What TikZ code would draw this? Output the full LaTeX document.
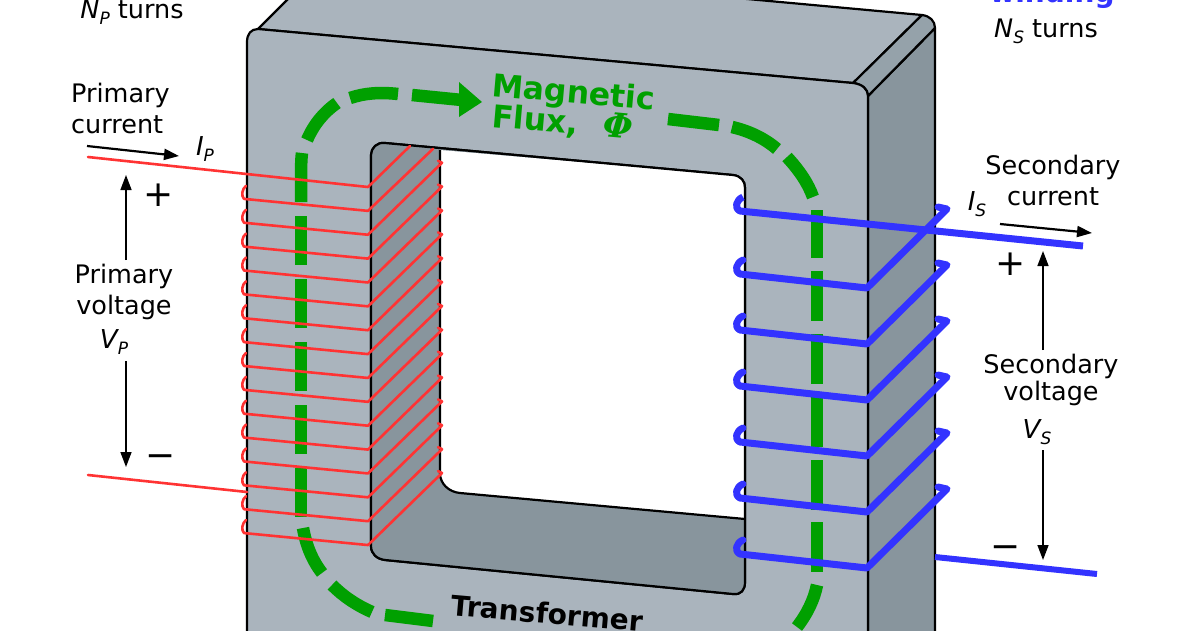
\documentclass[tikz,border=0pt]{standalone}
\usepackage{fontspec}
\setmainfont{DejaVu Sans}
\newfontfamily\serifphi{DejaVu Serif}
\usetikzlibrary{arrows.meta}
\definecolor{coreface}{HTML}{AAB4BD}
\definecolor{coredark}{HTML}{88959D}
\definecolor{coremid}{HTML}{95A2AA}
\definecolor{fluxgreen}{HTML}{00A000}
\definecolor{wirered}{HTML}{FF3333}
\definecolor{wireblue}{HTML}{3333FF}
\newcommand{\subsc}[1]{\raisebox{-6pt}{\fontsize{17}{17}\selectfont\itshape #1}}
\tikzset{
  outline/.style={draw=black,line width=2.2pt,line join=round},
  fluxdash/.style={draw=fluxgreen,line width=12.5pt},
  redwire/.style={draw=wirered,line width=2.6pt,line join=round,line cap=round},
  bluewire/.style={draw=wireblue,line width=7pt,line join=round,line cap=round},
  voltarrow/.style={draw=black,line width=1.5pt,-{Triangle[length=15pt,width=11pt]}},
  currarrow/.style={draw=black,line width=2.2pt,-{Triangle[length=15pt,width=11pt]}},
  label/.style={align=center,font=\fontsize{25.5}{31}\selectfont,inner sep=0pt},
  tightlabel/.style={align=center,font=\fontsize{25.5}{27.5}\selectfont,inner sep=0pt},
  math/.style={inner sep=0pt,font=\fontsize{26}{28}\selectfont\itshape},
  signmark/.style={inner sep=0pt,font=\fontsize{36}{36}\selectfont},
  fluxtext/.style={inner sep=0pt,rotate=-5,anchor=base west,text=fluxgreen,font=\bfseries\fontsize{31.5}{32}\selectfont}
}
\begin{document}
\begin{tikzpicture}[x=1pt,y=-1pt]
\useasboundingbox (0,0) rectangle (1200,630);
\clip (0,0) rectangle (1200,630);
\fill[white] (0,0) rectangle (1200,630);
% top face
\filldraw[fill=coreface,outline] (258,29) -- (296,-9) -- (660,-9) -- (922,15) -- (853,83) -- cycle;
% side face
\filldraw[fill=coredark,outline] (868,96) -- (935,28) -- (935,640) -- (868,640) -- cycle;
% chamfer
\filldraw[fill=coremid,outline] (853,83) -- (922,15) .. controls (930,16) and (935,21) .. (935,28) -- (868,96) .. controls (868,89) and (862,84) .. (853,83) -- cycle;
% front face with hole
\filldraw[fill=coreface,outline,even odd rule]
  (247,42) .. controls (247,34) and (251,29) .. (258,29) -- (853,83) .. controls (862,84) and (868,89) .. (868,96) -- (868,640) -- (247,640) -- cycle
  (385,143) -- (733,175) .. controls (741,176) and (745,181) .. (745,188) -- (745,582) .. controls (745,590) and (741,595) .. (733,594) -- (385,560) .. controls (377,559) and (371,554) .. (371,546) -- (371,155) .. controls (371,148) and (377,142) .. (385,143) -- cycle;
% hole inner walls
\fill[coredark] (385,143) -- (733,175) .. controls (741,176) and (745,181) .. (745,188) -- (745,582) .. controls (745,590) and (741,595) .. (733,594) -- (385,560) .. controls (377,559) and (371,554) .. (371,546) -- (371,155) .. controls (371,148) and (377,142) .. (385,143) -- cycle;
\filldraw[fill=white,draw=none] (440,150) -- (733,175) .. controls (741,176) and (745,181) .. (745,188) -- (745,519) -- (460,493) .. controls (449,492) and (440,484) .. (440,473) -- cycle;
\draw[outline] (440,150) -- (440,473) .. controls (440,484) and (449,492) .. (460,493) -- (745,519);
\draw[outline] (385,143) -- (733,175) .. controls (741,176) and (745,181) .. (745,188) -- (745,582) .. controls (745,590) and (741,595) .. (733,594) -- (385,560) .. controls (377,559) and (371,554) .. (371,546) -- (371,155) .. controls (371,148) and (377,142) .. (385,143) -- cycle;
% flux
\draw[fluxdash] (302,153) .. controls (301,160) and (301,170) .. (301,202);
\foreach \yy in {216,279,342,405,468} \draw[fluxdash] (301,\yy) -- (301,\yy+49);
\draw[fluxdash] (307,140) .. controls (314,124) and (324,112) .. (337,103);
\draw[fluxdash] (350,98) .. controls (365,93) and (380,92) .. (398,94);
\draw[fluxdash] (412,95) -- (462,100);
\fill[fluxgreen] (459,82) -- (482,102) -- (459,117) -- cycle;
\draw[fluxdash] (668,119) -- (719,125);
\draw[fluxdash] (732,127) .. controls (749,131) and (764,138) .. (777,149);
\draw[fluxdash] (787,157) .. controls (799,170) and (808,183) .. (813,197);
\draw[fluxdash] (817,210) -- (817,258);
\foreach \yy in {271,334,397,460,522} \draw[fluxdash] (817,\yy) -- (817,\yy+50);
\draw[fluxdash] (303,528) .. controls (306,545) and (312,560) .. (322,573);
\draw[fluxdash] (332,585) .. controls (343,596) and (356,605) .. (372,612);
\draw[fluxdash] (385,615) -- (433,621);
\draw[fluxdash] (817,585) .. controls (814,600) and (807,614) .. (797,627);
% primary winding
\draw[redwire] (88,157) -- (368,187) -- (410,146);
\draw[redwire] (88,475) -- (247,492);
\foreach \ii in {1,...,15}{
  \pgfmathsetmacro{\yy}{187+\ii*23.87}
  \ifnum\ii=1
    \draw[redwire] (246,\yy-25) .. controls (242,\yy-22) and (241,\yy-15) .. (244,\yy-12) -- (368,\yy) -- (433,\yy-62);
  \else
    \draw[redwire] (246,\yy-25) .. controls (242,\yy-22) and (241,\yy-15) .. (244,\yy-12) -- (368,\yy) -- (442,\yy-72) -- (438,\yy-74);
  \fi
}
% secondary winding
\draw[bluewire,line cap=butt,line width=6pt] (935,557) -- (1097,574);
\draw[bluewire,line cap=butt] (743,197) .. controls (736,200) and (734,208) .. (740,211) -- (1083,246);
\foreach \ii in {1,...,6}{
  \pgfmathsetmacro{\yy}{232+\ii*56}
  \draw[bluewire] (743,\yy-28) .. controls (736,\yy-25) and (734,\yy-17) .. (740,\yy-14) -- (867,\yy) -- (947,\yy-79) -- (938,\yy-81);
}
% arrows
\coordinate (ipa) at (87,146); \coordinate (ipb) at (179,156);
\draw[currarrow] (ipa) -- (ipb);
\coordinate (isa) at (1000,224); \coordinate (isb) at (1092,233);
\draw[currarrow] (isa) -- (isb);
% labels
\node[label] (npturns) at (132,12) {\textit{N}\subsc{P}\ turns};
\node[label,anchor=west,align=left] (pcur) at (71,108) {Primary\\current};
\node[math] (ip) at (205,149) {I\subsc{P}};
\node[signmark] (pplus) at (159,195) {+};
\node[signmark] (pminus) at (161,461) {−};
\node[label] (pvolt) at (124,292) {Primary\\voltage};
\node[math] (vp) at (114,342) {V\subsc{P}};
\coordinate (pvtop) at (126,175); \coordinate (pvbot) at (126,467);
\coordinate (pvs) at (126,260); \coordinate (pve) at (126,361);
\draw[voltarrow] (pvs) -- (pvtop);
\draw[voltarrow] (pve) -- (pvbot);
\node[anchor=base,inner sep=0pt,font=\bfseries\fontsize{28}{28}\selectfont,text=wireblue] (swind) at (1052,2) {winding};
\node[label] (nsturns) at (1046,31) {\textit{N}\subsc{S}\ turns};
\node[label] (scur) at (1053,180) {Secondary\\current};
\node[math] (is) at (977,204) {I\subsc{S}};
\node[signmark] (splus) at (1011,264) {+};
\node[signmark] (sminus) at (1006,552) {−};
\node[tightlabel] (svolt) at (1051,380) {Secondary\\voltage};
\node[math] (vs) at (1037,432) {V\subsc{S}};
\coordinate (svtop) at (1043,251); \coordinate (svbot) at (1043,560);
\coordinate (svs) at (1043,350); \coordinate (sve) at (1043,450);
\draw[voltarrow] (svs) -- (svtop);
\draw[voltarrow] (sve) -- (svbot);
\node[fluxtext] (fluxa) at (491,96) {Magnetic};
\node[fluxtext] (fluxb) at (491,127) {Flux,\ \ \kern3pt{\serifphi\itshape\fontsize{34}{32}\selectfont Φ}};
\node[inner sep=0pt,rotate=-5,text=black,font=\bfseries\fontsize{28}{30}\selectfont] (tf) at (547,613) {Transformer};
\end{tikzpicture}
\end{document}
